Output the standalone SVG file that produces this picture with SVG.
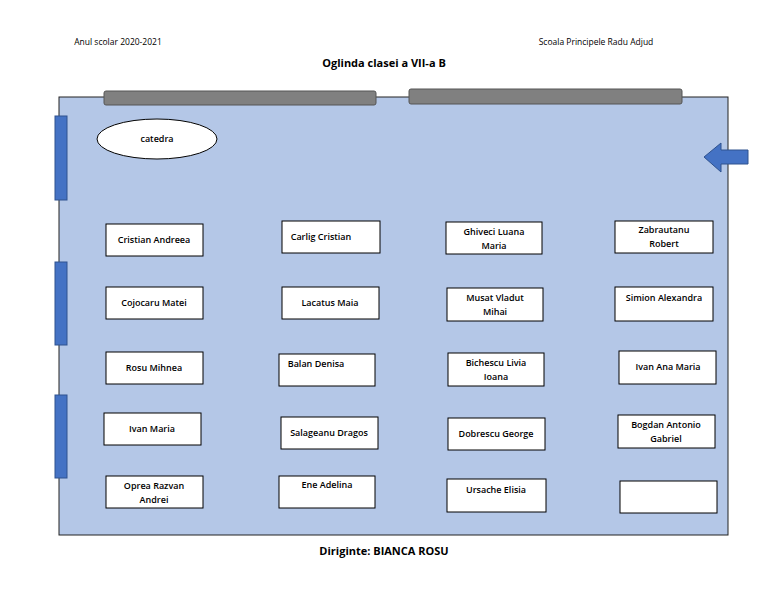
<svg xmlns="http://www.w3.org/2000/svg" width="768" height="594" viewBox="0 0 768 594">
<style>
text{font-family:"Open Sans","Liberation Sans",sans-serif;font-size:9px;fill:#000;text-anchor:middle;font-weight:600}
.h{font-weight:normal;font-size:8.5px}
.b{fill:#fff;stroke:#000;stroke-width:1}
.t{font-weight:bold;font-size:11px}
.w{fill:#4472c4;stroke:#2f528f;stroke-width:1}
.g{fill:#808080;stroke:#555;stroke-width:1}
</style>
<rect width="768" height="594" fill="#fff"/>
<text class="h" x="118" y="45">Anul scolar 2020-2021</text>
<text class="h" x="596" y="45">Scoala Principele Radu Adjud</text>
<text class="t" x="384" y="67">Oglinda clasei a VII-a B</text>
<text class="t" x="384" y="555">Diriginte: BIANCA ROSU</text>
<rect x="59" y="97" width="669" height="438" fill="#b4c7e7" stroke="#222" stroke-width="1"/>
<rect class="g" x="104" y="91" width="272" height="14" rx="2"/>
<rect class="g" x="409" y="89" width="273" height="15" rx="2"/>
<rect class="w" x="55" y="116" width="12" height="84"/>
<rect class="w" x="55" y="262" width="12" height="83"/>
<rect class="w" x="55" y="395" width="12" height="83"/>
<polygon class="w" points="748,150 721,150 721,143 704,157 721,172 721,164 748,164"/>
<g id="catedra"><ellipse class="b" cx="157" cy="139" rx="60" ry="20"/><text x="157" y="142">catedra</text></g>
<g id="n1"><rect class="b" x="106" y="224" width="97" height="32"/><text x="154" y="243">Cristian Andreea</text></g>
<g id="n2"><rect class="b" x="106" y="287" width="97" height="32"/><text x="154" y="306">Cojocaru Matei</text></g>
<g id="n3"><rect class="b" x="106" y="352" width="97" height="32"/><text x="154" y="371">Rosu Mihnea</text></g>
<g id="n4"><rect class="b" x="104" y="413" width="97" height="32"/><text x="152" y="432">Ivan Maria</text></g>
<g id="n5"><rect class="b" x="106" y="476" width="97" height="32"/><text x="154" y="489">Oprea Razvan</text><text x="154" y="503">Andrei</text></g>
<g id="n6"><rect class="b" x="282" y="221" width="98" height="32"/><text x="321" y="240">Carlig Cristian</text></g>
<g id="n7"><rect class="b" x="282" y="287" width="97" height="32"/><text x="330" y="306">Lacatus Maia</text></g>
<g id="n8"><rect class="b" x="279" y="354" width="96" height="32"/><text x="316" y="367">Balan Denisa</text></g>
<g id="n9"><rect class="b" x="281" y="417" width="97" height="32"/><text x="329" y="436">Salageanu Dragos</text></g>
<g id="n10"><rect class="b" x="279" y="476" width="96" height="32"/><text x="327" y="488">Ene Adelina</text></g>
<g id="n11"><rect class="b" x="446" y="222" width="96" height="32"/><text x="494" y="235">Ghiveci Luana</text><text x="494" y="249">Maria</text></g>
<g id="n12"><rect class="b" x="447" y="288" width="96" height="33"/><text x="495" y="301">Musat Vladut</text><text x="495" y="315">Mihai</text></g>
<g id="n13"><rect class="b" x="448" y="353" width="96" height="33"/><text x="496" y="366">Bichescu Livia</text><text x="496" y="380">Ioana</text></g>
<g id="n14"><rect class="b" x="448" y="418" width="97" height="32"/><text x="496" y="437">Dobrescu George</text></g>
<g id="n15"><rect class="b" x="447" y="479" width="99" height="33"/><text x="496" y="493">Ursache Elisia</text></g>
<g id="n16"><rect class="b" x="615" y="221" width="98" height="32"/><text x="664" y="233">Zabrautanu</text><text x="664" y="247">Robert</text></g>
<g id="n17"><rect class="b" x="615" y="287" width="98" height="34"/><text x="664" y="301">Simion Alexandra</text></g>
<g id="n18"><rect class="b" x="619" y="351" width="97" height="33"/><text x="668" y="370">Ivan Ana Maria</text></g>
<g id="n19"><rect class="b" x="618" y="415" width="97" height="33"/><text x="666" y="428">Bogdan Antonio</text><text x="666" y="442">Gabriel</text></g>
<g id="n20"><rect class="b" x="620" y="481" width="97" height="32"/></g>
<g id="connectors"></g>
</svg>
